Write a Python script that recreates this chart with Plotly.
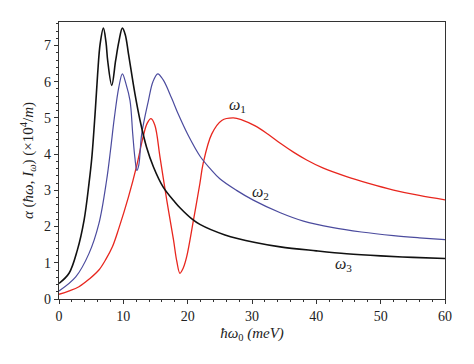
import plotly.graph_objects as go

# omega_3 (black)
x_w3 = [0, 1.56, 2.85, 3.9, 4.67, 5.1, 5.6, 6.0, 6.4, 6.9, 7.3, 7.57, 8.2, 8.8, 9.3, 9.85, 10.3, 10.8, 11.8,
        12.6, 13.6, 14.7, 16.2, 18, 18.8, 20.6, 21.9, 25.8, 30.5, 34.4, 40, 44.7, 50, 55, 60]
y_w3 = [0.43, 0.71, 1.35, 2.18, 3.2, 3.9, 5.1, 6.2, 7.05, 7.48, 7.1, 6.58, 5.9, 6.58, 7.1, 7.48, 7.3, 6.77, 5.67,
        4.93, 4.2, 3.64, 3.09, 2.68, 2.52, 2.22, 2.06, 1.77, 1.56, 1.44, 1.33, 1.25, 1.19, 1.15, 1.12]

# omega_2 (blue)
x_w2 = [0, 2.6, 4.67, 6.2, 7.4, 8.0, 8.6, 9.3, 9.85, 10.4, 11.04, 11.46, 11.8, 12.1, 12.4, 12.86, 13.9, 14.6,
        15.35, 16.2, 17.5, 18.55, 20, 21.9, 23.5, 25, 27.6, 30.2, 34.4, 38, 42.6, 47, 52, 56, 60]
y_w2 = [0.22, 0.61, 1.26, 2.08, 3.28, 4.1, 5.0, 5.85, 6.22, 5.95, 5.48, 4.56, 3.9, 3.55, 3.7, 4.56, 5.48, 6.0,
        6.22, 6.05, 5.55, 5.1, 4.55, 3.95, 3.6, 3.32, 3.0, 2.73, 2.38, 2.15, 1.97, 1.85, 1.75, 1.69, 1.64]

# omega_1 (red)
x_w1 = [0, 1.5, 3.1, 4.7, 6.2, 7.3, 8.3, 9.3, 10.8, 12.1, 13.1, 13.7, 14.3, 14.9, 15.7, 16.75, 17.8, 18.3, 18.8,
        19.3, 19.85, 20.9, 21.9, 22.4, 23.75, 25.3, 27.1, 28.5, 30.5, 32.5, 34.4, 36.5, 38.5, 41, 44.7, 48, 52, 56, 60]
y_w1 = [0.13, 0.22, 0.34, 0.55, 0.8, 1.1, 1.44, 1.95, 2.82, 3.7, 4.5, 4.85, 4.98, 4.8, 3.92, 2.73, 1.63, 1.05, 0.71,
        0.85, 1.17, 2.18, 3.19, 3.74, 4.56, 4.93, 5.0, 4.94, 4.78, 4.55, 4.3, 4.05, 3.84, 3.62, 3.38, 3.2, 3.01, 2.86, 2.74]

x_ticks = [0, 10, 20, 30, 40, 50, 60]
y_ticks = [0, 1, 2, 3, 4, 5, 6, 7]

labels = ["<i>ω</i><sub>1</sub>", "<i>ω</i><sub>2</sub>", "<i>ω</i><sub>3</sub>"]
label_x = [27.7, 31.3, 44.2]
label_y = [5.34, 2.95, 0.94]

serif = "Liberation Serif, DejaVu Serif, serif"

fig = go.Figure()
fig.add_trace(go.Scatter(x=x_w1, y=y_w1, mode="lines", line=dict(color="#e8261e", width=1.3, shape="spline", smoothing=1.0)))
fig.add_trace(go.Scatter(x=x_w2, y=y_w2, mode="lines", line=dict(color="#4b4b9e", width=1.2, shape="spline", smoothing=1.0)))
fig.add_trace(go.Scatter(x=x_w3, y=y_w3, mode="lines", line=dict(color="#111111", width=1.6, shape="spline", smoothing=1.0)))

for t, lx, ly in zip(labels, label_x, label_y):
    fig.add_annotation(x=lx, y=ly, text=t, showarrow=False, font=dict(family=serif, size=16, color="#222"))

axis_common = dict(showline=True, linecolor="#333", linewidth=1.2, mirror=True, ticks="outside",
                   tickcolor="#333", ticklen=4, showgrid=False, zeroline=False,
                   tickfont=dict(family=serif, size=14, color="#222"))

fig.update_xaxes(range=[0, 60], tickvals=x_ticks, minor=dict(dtick=2, ticks="outside", ticklen=2, tickcolor="#333"),
                 title=dict(text="<i>ħω</i><sub>0</sub> <i>(meV)</i>", font=dict(family=serif, size=15, color="#222"), standoff=4),
                 **axis_common)
fig.update_yaxes(range=[0, 7.65], tickvals=y_ticks, minor=dict(dtick=0.2, ticks="outside", ticklen=2, tickcolor="#333"),
                 title=dict(text="<i>α</i> (<i>ħω</i>, <i>I</i><sub><i>ω</i></sub>) (×10<sup>4</sup>/<i>m</i>)",
                            font=dict(family=serif, size=15, color="#222"), standoff=6),
                 **axis_common)

fig.update_layout(width=458, height=348, margin=dict(l=51, r=21, t=14, b=57),
                  plot_bgcolor="white", paper_bgcolor="white", showlegend=False)

fig.write_html("out.html")
